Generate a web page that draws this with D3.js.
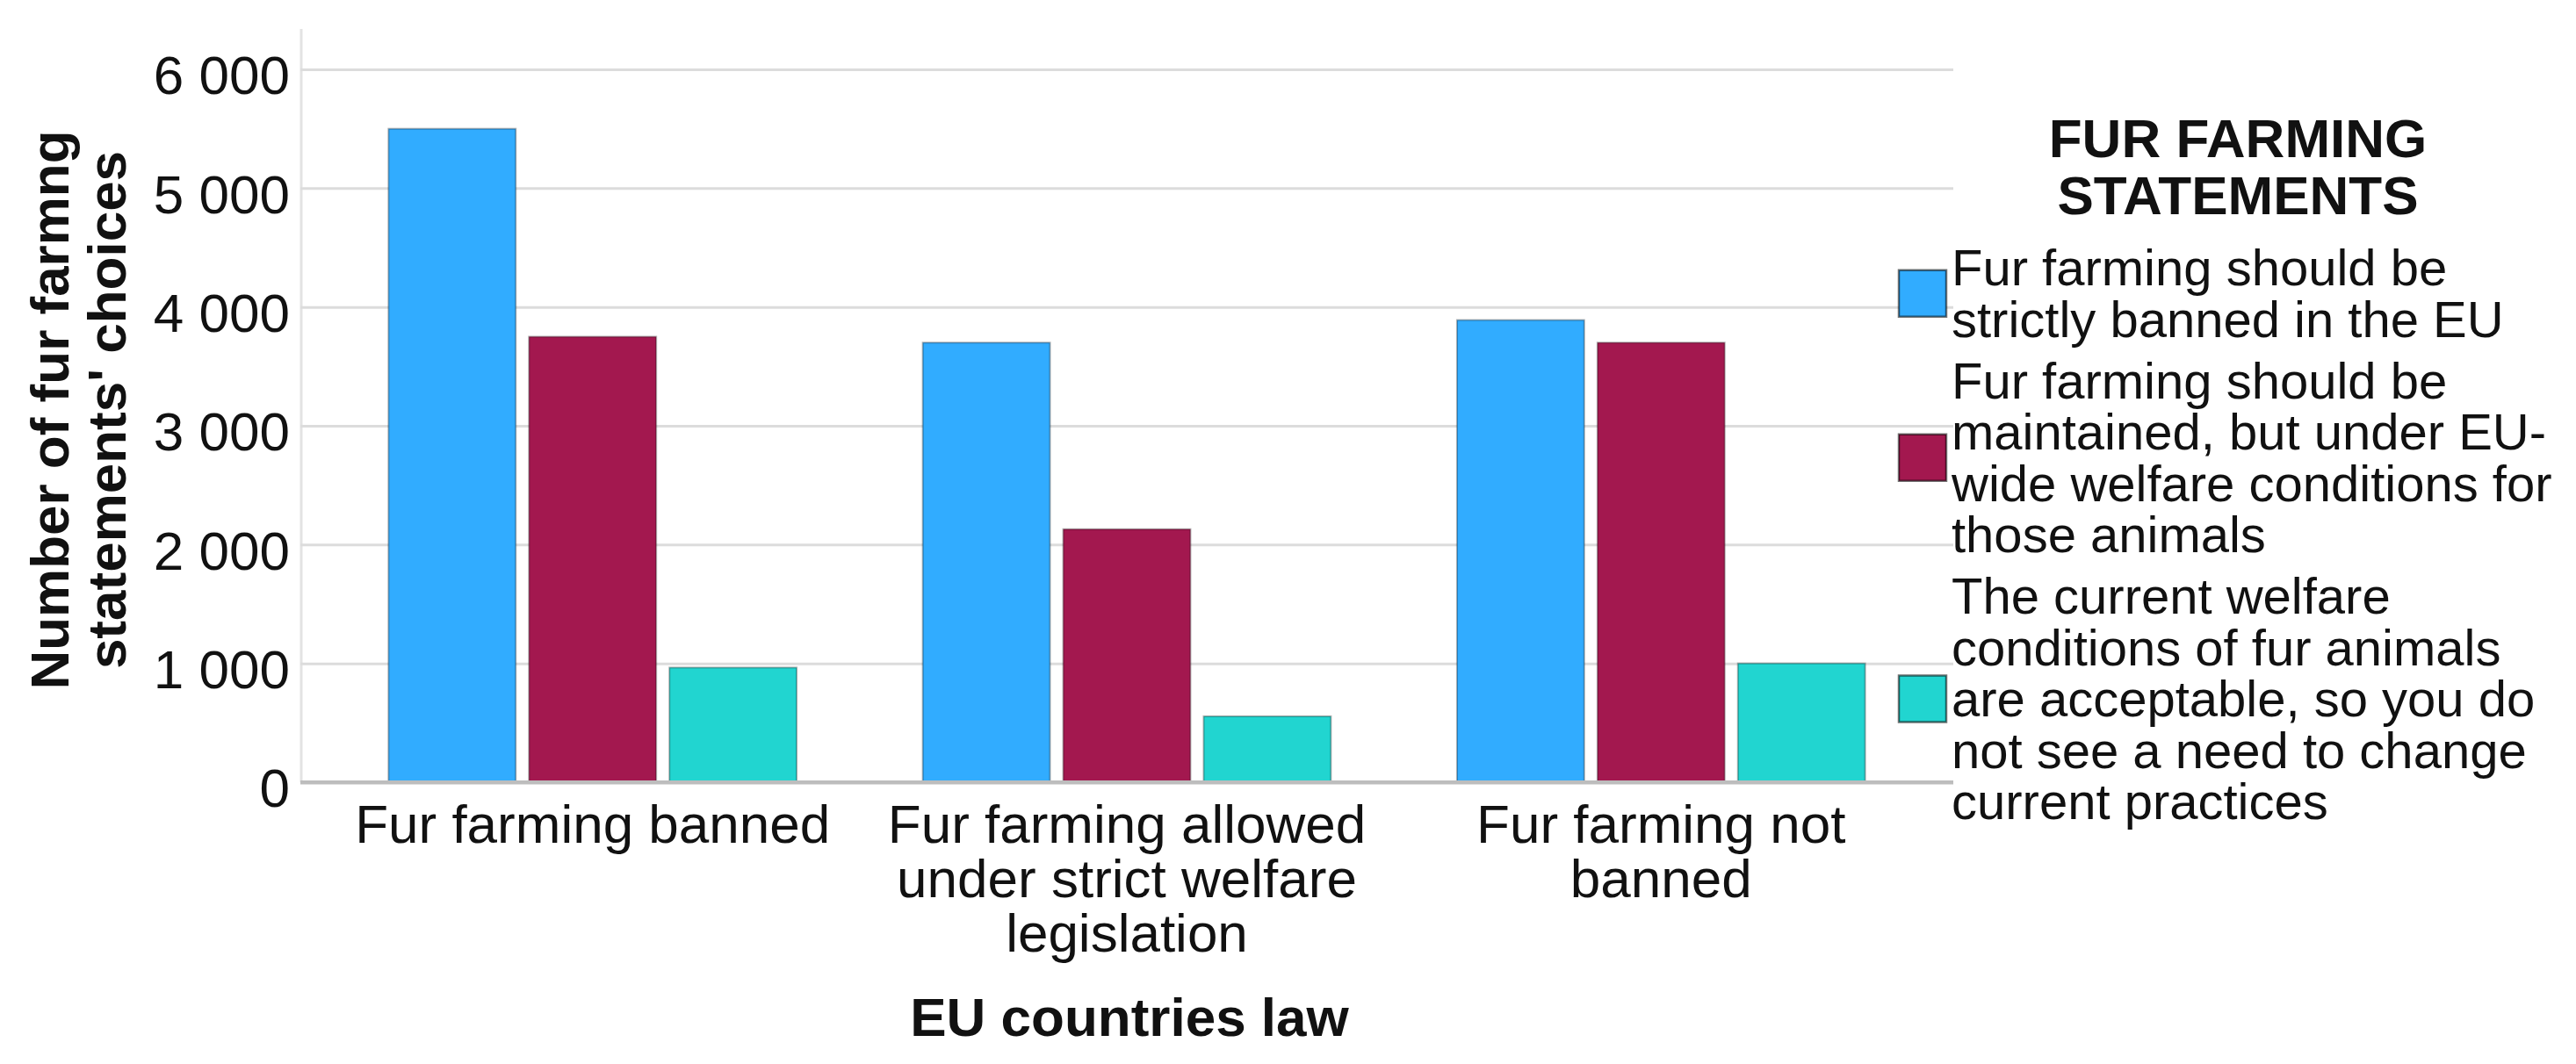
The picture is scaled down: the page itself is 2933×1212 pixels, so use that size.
<!DOCTYPE html>
<html>
<head>
<meta charset="utf-8">
<script src="https://cdn.jsdelivr.net/npm/d3@7"></script>
<style>
  html, body { margin: 0; padding: 0; background: #ffffff; }
  svg { display: block; }
  text { font-family: "Liberation Sans", Arial, sans-serif; fill: #111; }
</style>
</head>
<body>
<svg id="chart" width="2933" height="1212"></svg>
<script>
// ---- data ----
const categories = ["banned", "allowed", "notBanned"];
const categoryLabels = [
  ["Fur farming banned"],
  ["Fur farming allowed", "under strict welfare", "legislation"],
  ["Fur farming not", "banned"]
];
const seriesKeys = ["strictBan", "euWelfare", "acceptable"];
const seriesLabels = [
  ["Fur farming should be", "strictly banned in the EU"],
  ["Fur farming should be", "maintained, but under EU-", "wide welfare conditions for", "those animals"],
  ["The current welfare", "conditions of fur animals", "are acceptable, so you do", "not see a need to change", "current practices"]
];
const strictBanValues  = [5500, 3700, 3890];
const euWelfareValues  = [3750, 2130, 3700];
const acceptableValues = [965, 555, 1000];
const yTickValues = [0, 1000, 2000, 3000, 4000, 5000, 6000];
const yTitle = ["Number of fur farmng", "statements' choices"];
const xTitle = "EU countries law";
const legendTitle = ["FUR FARMING", "STATEMENTS"];
const colors = ["#31acff", "#a3184f", "#21d5d0"];

const seriesValues = [strictBanValues, euWelfareValues, acceptableValues];

// ---- layout ----
const svg = d3.select("#chart");
svg.append("rect").attr("width", 2933).attr("height", 1212).attr("fill", "#fff");

const plotLeft = 342, plotRight = 2224, plotTop = 79, plotBottom = 891;

const y = d3.scaleLinear().domain([0, 6000]).range([plotBottom, plotTop]);
const x0 = d3.scaleBand().domain(categories).range([plotLeft, plotRight])
  .paddingInner(0.236).paddingOuter(0.165);
const x1 = d3.scaleBand().domain(seriesKeys).range([0, x0.bandwidth()]).paddingInner(0.094);

const fmt = v => d3.format(",")(v).replace(/,/g, " ");

// vertical axis line
svg.append("line")
  .attr("x1", plotLeft + 1).attr("x2", plotLeft + 1)
  .attr("y1", 33).attr("y2", plotBottom)
  .attr("stroke", "#e3e3e3").attr("stroke-width", 3);

// gridlines
const yAxis = d3.axisLeft(y).tickValues(yTickValues).tickFormat(fmt)
  .tickSize(-(plotRight - plotLeft)).tickPadding(12);
const gAxis = svg.append("g").attr("transform", `translate(${plotLeft},0)`).call(yAxis);
gAxis.select(".domain").remove();
gAxis.selectAll(".tick line")
  .attr("stroke", d => d === 0 ? "#bdbdbd" : "#dcdcdc")
  .attr("stroke-width", d => d === 0 ? 4 : 3);
gAxis.selectAll(".tick text")
  .attr("font-size", 62)
  .attr("fill", "#111")
  .attr("dy", "0.45em")
  .attr("font-family", "'Liberation Sans', Arial, sans-serif");

// bars
const rows = categories.map((c, i) => ({
  cat: c,
  vals: seriesKeys.map((k, j) => ({ key: k, j, value: seriesValues[j][i] }))
}));
const gBars = svg.append("g");
rows.forEach(r => {
  gBars.selectAll(null).data(r.vals).enter().append("rect")
    .attr("x", d => x0(r.cat) + x1(d.key))
    .attr("width", x1.bandwidth())
    .attr("y", d => y(d.value))
    .attr("height", d => y(0) - y(d.value))
    .attr("fill", d => colors[d.j])
    .attr("stroke", "rgba(0,0,0,0.3)")
    .attr("stroke-width", 2);
});

// redraw baseline on top of bars
svg.append("line")
  .attr("x1", plotLeft).attr("x2", plotRight)
  .attr("y1", y(0)).attr("y2", y(0))
  .attr("stroke", "#bdbdbd").attr("stroke-width", 4);

// category labels
categories.forEach((c, i) => {
  const t = svg.append("text")
    .attr("text-anchor", "middle")
    .attr("font-size", 62);
  categoryLabels[i].forEach((line, k) => {
    t.append("tspan")
      .attr("x", x0(c) + x0.bandwidth() / 2)
      .attr("y", 960 + k * 62)
      .text(line);
  });
});

// x title
svg.append("text")
  .attr("x", 1286).attr("y", 1180)
  .attr("text-anchor", "middle")
  .attr("font-size", 62).attr("font-weight", "bold")
  .text(xTitle);

// y title
const yt = svg.append("text")
  .attr("transform", "translate(0,467) rotate(-90)")
  .attr("text-anchor", "middle")
  .attr("font-size", 62).attr("font-weight", "bold");
yTitle.forEach((line, k) => {
  yt.append("tspan").attr("x", 0).attr("y", 78 + k * 65).text(line);
});

// legend title
const lt = svg.append("text")
  .attr("text-anchor", "middle")
  .attr("font-size", 62).attr("font-weight", "bold");
legendTitle.forEach((line, k) => {
  lt.append("tspan").attr("x", 2548).attr("y", 179 + k * 65).text(line);
});

// legend items
const lineH = 58.5, itemGap = 70;
let base = 325;
seriesKeys.forEach((k, j) => {
  const lines = seriesLabels[j];
  const first = base;
  const last = base + (lines.length - 1) * lineH;
  const t = svg.append("text").attr("font-size", 58);
  lines.forEach((line, i) => {
    t.append("tspan").attr("x", 2222).attr("y", first + i * lineH).text(line);
  });
  const cy = (first + last) / 2 - 20;
  svg.append("rect")
    .attr("x", 2162).attr("y", cy - 26.5)
    .attr("width", 54).attr("height", 53)
    .attr("fill", colors[j])
    .attr("stroke", "rgba(0,0,0,0.55)").attr("stroke-width", 2.5);
  base = last + itemGap;
});
</script>
</body>
</html>
